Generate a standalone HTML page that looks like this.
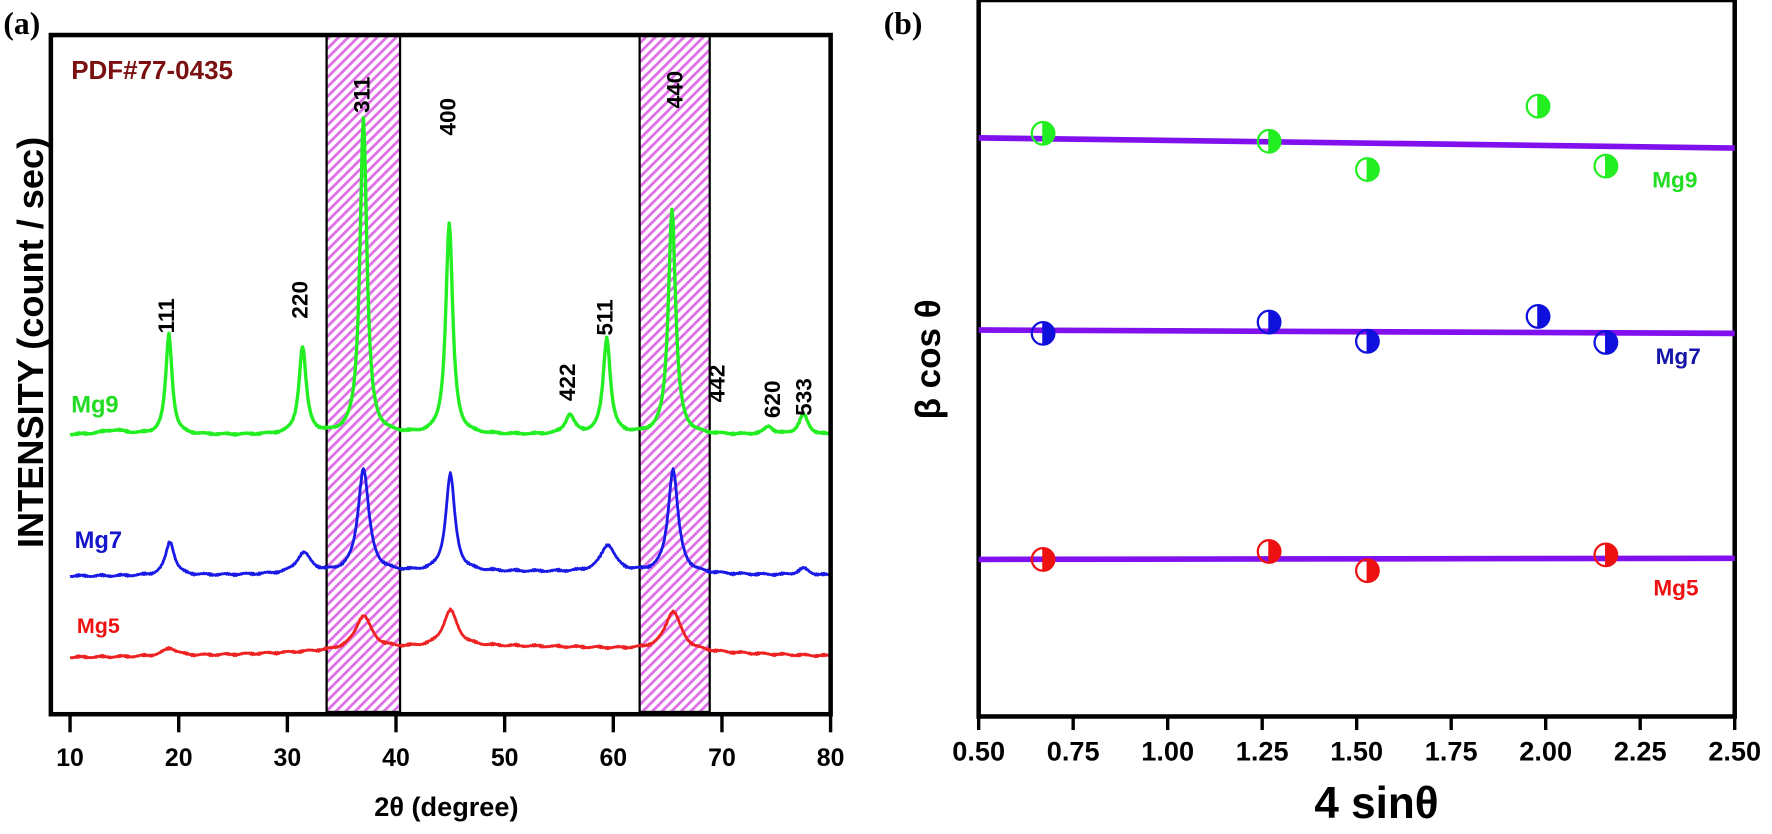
<!DOCTYPE html><html><head><style>body{margin:0;background:#fff}svg{display:block}text{font-family:"Liberation Sans",sans-serif;font-weight:bold}</style></head><body>
<svg id="s" width="1772" height="834">
<defs><pattern id="h" width="6" height="6" patternUnits="userSpaceOnUse" patternTransform="rotate(45)"><rect width="6" height="6" fill="#fff"/><rect width="2.5" height="6" fill="#e070e8"/></pattern></defs>
<g transform="scale(1.1301)">
<text x="3" y="30" font-size="28" style="font-family:'Liberation Serif',serif">(a)</text>
<text x="782" y="30" font-size="28" style="font-family:'Liberation Serif',serif">(b)</text>
<rect x="289" y="31" width="65" height="599" fill="url(#h)" stroke="#000" stroke-width="2"/>
<rect x="566" y="31" width="62" height="599" fill="url(#h)" stroke="#000" stroke-width="2"/>
<g id="curves"></g>
<rect x="45" y="31" width="690" height="601" fill="none" stroke="#000" stroke-width="4"/>
<text x="63" y="70" font-size="23" fill="#7a1010">PDF#77-0435</text>
<g font-size="20" fill="#000" id="lbl"></g>
<text x="63" y="365" font-size="21" fill="#22dd22">Mg9</text>
<text x="66" y="485" font-size="21" fill="#1515cc">Mg7</text>
<text x="68" y="560" font-size="19" fill="#ee1111">Mg5</text>
<g font-size="22" text-anchor="middle" id="xt1"></g>
<text x="395" y="722" font-size="24" text-anchor="middle">2θ  (degree)</text>
<text transform="translate(38,303) rotate(-90)" font-size="32" text-anchor="middle">INTENSITY (count / sec)</text>
<rect x="866" y="0" width="669" height="634" fill="none" stroke="#000" stroke-width="4"/>
<g id="rp"></g>
<g font-size="24" text-anchor="middle" id="xt2"></g>
<text x="1218" y="724" font-size="39" text-anchor="middle">4 sinθ</text>
<text transform="translate(832,318) rotate(-90)" font-size="31" text-anchor="middle">β cos θ</text>
<text x="1462" y="166" font-size="20" fill="#22dd22">Mg9</text>
<text x="1465" y="322" font-size="20" fill="#1515aa">Mg7</text>
<text x="1463" y="527" font-size="20" fill="#ee1111">Mg5</text>
</g>
</svg>
<script>
var NS=document.getElementById("s").namespaceURI;
function el(p,t,a,txt){var e=document.createElementNS(NS,t);for(var k in a)e.setAttribute(k,a[k]);if(txt)e.textContent=txt;document.getElementById(p).appendChild(e);return e;}
function X(d){return 62+(d-10)*9.614;}
function curve(base,peaks,col,w,noise,hump){var s="";for(var d=10;d<=80.001;d+=0.1){var y=base;if(hump)y-=hump*Math.exp(-Math.pow((d-50)/22,2));for(var i=0;i<peaks.length;i++){var c=peaks[i][0],h=peaks[i][1],g=peaks[i][2];y-=h/(1+Math.pow((d-c)/g,2));}y+=noise*(Math.sin(d*37.1)+Math.sin(d*91.7)*0.7+Math.sin(d*3.3)*1.2);s+=(s?"L":"M")+X(d).toFixed(1)+","+y.toFixed(1);}el("curves","path",{d:s,fill:"none",stroke:col,"stroke-width":w,"stroke-linejoin":"round"});}
curve(385,[[19.1,89,0.35],[31.4,77,0.4],[37.0,280,0.38],[44.9,187,0.38],[56,17,0.5],[59.4,85,0.4],[65.4,200,0.4],[74.3,7,0.5],[77.5,18,0.5],[14,4,1.5]],"#22ee22",3,0.4,0);
curve(510,[[19.2,30,0.5],[31.5,18,0.8],[37.0,92,0.6],[45,86,0.5],[59.5,24,0.8],[65.5,92,0.55],[77.5,6,0.6]],"#1a1ae6",2.5,0.5,4);
curve(582,[[19.2,7,0.8],[37.0,30,0.9],[45,32,0.8],[65.5,35,0.9]],"#ee2222",2.5,0.5,10);
var L=[["111",147,295],["220",265,282],["311",320,100],["400",396,120],["422",502,355],["511",535,297],["440",597,96],["442",634,356],["620",683,370],["533",711,368]];
for(var i=0;i<L.length;i++){el("lbl","text",{transform:"translate("+(L[i][1]+7)+","+L[i][2]+") rotate(-90)"},L[i][0]);}
for(var d=10;d<=80;d+=10){el("xt1","text",{x:X(d),y:678},String(d));el("curves","line",{x1:X(d),x2:X(d),y1:632,y2:648,stroke:"#000","stroke-width":3});}
function RX(v){return 866+(v-0.5)*334.5;}
el("rp","line",{x1:866,y1:122,x2:1535,y2:131,stroke:"#8010ee","stroke-width":5});
el("rp","line",{x1:866,y1:292,x2:1535,y2:295,stroke:"#8010ee","stroke-width":5});
el("rp","line",{x1:866,y1:495,x2:1535,y2:494,stroke:"#8010ee","stroke-width":5});
function pt(x,y,c){var r=10;el("rp","path",{d:"M"+x+","+(y-r)+"A"+r+","+r+" 0 0 1 "+x+","+(y+r)+"Z",fill:c});el("rp","circle",{cx:x,cy:y,r:r,fill:"none",stroke:c,"stroke-width":2});el("rp","line",{x1:x,y1:y-r,x2:x,y2:y+r,stroke:c,"stroke-width":1.5});}
var P9=[[923,118],[1123,125],[1210,150],[1361,94],[1421,147]],P7=[[923,295],[1123,285],[1210,302],[1361,280],[1421,303]],P5=[[923,495],[1123,488],[1210,505],[1421,491]];
for(i=0;i<P9.length;i++)pt(P9[i][0],P9[i][1],"#22ee22");
for(i=0;i<P7.length;i++)pt(P7[i][0],P7[i][1],"#1010dd");
for(i=0;i<P5.length;i++)pt(P5[i][0],P5[i][1],"#ee1111");
for(var k=0;k<=8;k++){var v=0.5+k*0.25;el("xt2","text",{x:RX(v),y:673},v.toFixed(2));el("rp","line",{x1:RX(v),x2:RX(v),y1:634,y2:646,stroke:"#000","stroke-width":3});}
</script>
</body></html>
